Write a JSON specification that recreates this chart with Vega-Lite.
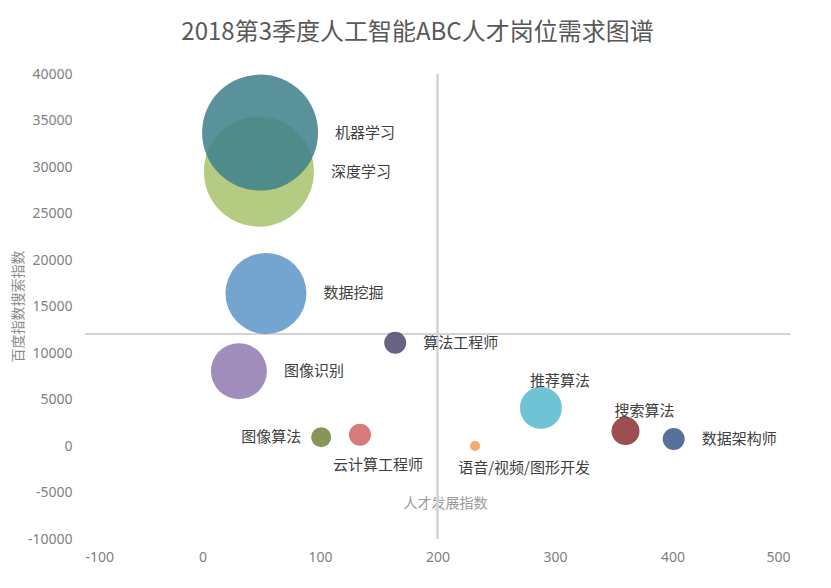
{
  "$schema": "https://vega.github.io/schema/vega-lite/v6.json",
  "autosize": {"type": "none"},
  "width": 705,
  "height": 465,
  "padding": {"left": 85, "top": 74, "right": 41, "bottom": 49},
  "background": "white",
  "config": {
    "view": {"stroke": null},
    "font": "Noto Sans CJK SC"
  },
  "title": {
    "text": "2018第3季度人工智能ABC人才岗位需求图谱",
    "fontSize": 24,
    "fontWeight": "normal",
    "color": "#595959",
    "font": "Noto Sans CJK SC",
    "anchor": "middle",
    "frame": "group",
    "dx": -20,
    "offset": 22
  },
  "data": {
    "values": [
      {"job": "深度学习", "talent": 48, "search": 29500, "demand": 3025},
      {"job": "机器学习", "talent": 49, "search": 33700, "demand": 3364},
      {"job": "数据挖掘", "talent": 54, "search": 16400, "demand": 1640},
      {"job": "图像识别", "talent": 31, "search": 8050, "demand": 784},
      {"job": "算法工程师", "talent": 164, "search": 11100, "demand": 121},
      {"job": "推荐算法", "talent": 288, "search": 4100, "demand": 441},
      {"job": "搜索算法", "talent": 360, "search": 1600, "demand": 196},
      {"job": "数据架构师", "talent": 401, "search": 750, "demand": 121},
      {"job": "图像算法", "talent": 101, "search": 950, "demand": 100},
      {"job": "云计算工程师", "talent": 134, "search": 1200, "demand": 121},
      {"job": "语音/视频/图形开发", "talent": 232, "search": 0, "demand": 25}
    ]
  },
  "encoding": {
    "x": {
      "field": "talent",
      "type": "quantitative",
      "scale": {"domain": [-100, 500], "nice": false, "zero": false},
      "axis": {
        "values": [-100, 0, 100, 200, 300, 400, 500],
        "labelExpr": "datum.value + ''",
        "grid": false,
        "domain": false,
        "ticks": false,
        "labelPadding": 11,
        "labelFontSize": 14,
        "labelColor": "#7f7f7f",
        "labelFont": "Noto Sans",
        "title": "人才发展指数",
        "titleFontSize": 14,
        "titleFontWeight": "normal",
        "titleColor": "#9a9a9a",
        "titleX": 360,
        "titleY": -36,
        "titleBaseline": "middle",
        "titleAlign": "center"
      }
    },
    "y": {
      "field": "search",
      "type": "quantitative",
      "scale": {"domain": [-10000, 40000], "nice": false, "zero": false},
      "axis": {
        "values": [-10000, -5000, 0, 5000, 10000, 15000, 20000, 25000, 30000, 35000, 40000],
        "labelExpr": "datum.value + ''",
        "grid": false,
        "domain": false,
        "ticks": false,
        "labelPadding": 13,
        "labelFontSize": 14,
        "labelColor": "#7f7f7f",
        "labelFont": "Noto Sans",
        "title": "百度指数搜索指数",
        "titleFontSize": 14,
        "titleFontWeight": "normal",
        "titleColor": "#8a8a8a",
        "titleX": -67,
        "titleY": 232,
        "titleAngle": -90,
        "titleBaseline": "middle",
        "titleAlign": "center"
      }
    }
  },
  "layer": [
    {
      "mark": {"type": "rule", "color": "#d4d4d4", "strokeWidth": 1.3},
      "encoding": {"x": {"datum": 200}, "y": null}
    },
    {
      "mark": {"type": "rule", "color": "#d4d4d4", "strokeWidth": 1.3},
      "encoding": {"y": {"datum": 12000}, "x": null}
    },
    {
      "mark": {"type": "circle", "opacity": 0.85, "strokeWidth": 0},
      "encoding": {
        "size": {
          "field": "demand",
          "type": "quantitative",
          "scale": {"type": "linear", "domain": [0, 3364], "range": [0, 13456], "zero": true},
          "legend": null
        },
        "color": {
          "field": "job",
          "type": "nominal",
          "scale": {
            "domain": ["深度学习", "机器学习", "数据挖掘", "图像识别", "算法工程师", "推荐算法", "搜索算法", "数据架构师", "图像算法", "云计算工程师", "语音/视频/图形开发"],
            "range": ["#A7C36C", "#3D7F8A", "#5C94C8", "#9179AF", "#4C486D", "#56B8CD", "#8B2F31", "#3A588A", "#72843B", "#D06463", "#F59B55"]
          },
          "legend": null
        }
      }
    },
    {
      "transform": [{"filter": {"field": "job", "oneOf": ["机器学习", "深度学习", "数据挖掘", "图像识别", "算法工程师", "数据架构师"]}}],
      "mark": {"type": "text", "align": "left", "baseline": "middle", "fontSize": 15, "color": "#404040", "dx": {"expr": "sqrt(datum.demand) + 17"}},
      "encoding": {"text": {"field": "job"}}
    },
    {
      "transform": [{"filter": {"field": "job", "oneOf": ["推荐算法", "搜索算法"]}}],
      "mark": {"type": "text", "align": "center", "baseline": "middle", "fontSize": 15, "color": "#404040", "dx": 19, "dy": {"expr": "-(sqrt(datum.demand) + 6)"}},
      "encoding": {"text": {"field": "job"}}
    },
    {
      "transform": [{"filter": {"field": "job", "equal": "图像算法"}}],
      "mark": {"type": "text", "align": "right", "baseline": "middle", "fontSize": 15, "color": "#404040", "dx": -20},
      "encoding": {"text": {"field": "job"}}
    },
    {
      "transform": [{"filter": {"field": "job", "equal": "云计算工程师"}}],
      "mark": {"type": "text", "align": "center", "baseline": "middle", "fontSize": 15, "color": "#404040", "dx": 18, "dy": 30},
      "encoding": {"text": {"field": "job"}}
    },
    {
      "transform": [{"filter": {"field": "job", "equal": "语音/视频/图形开发"}}],
      "mark": {"type": "text", "align": "center", "baseline": "middle", "fontSize": 15, "color": "#404040", "dx": 49, "dy": 22},
      "encoding": {"text": {"field": "job"}}
    }
  ]
}
